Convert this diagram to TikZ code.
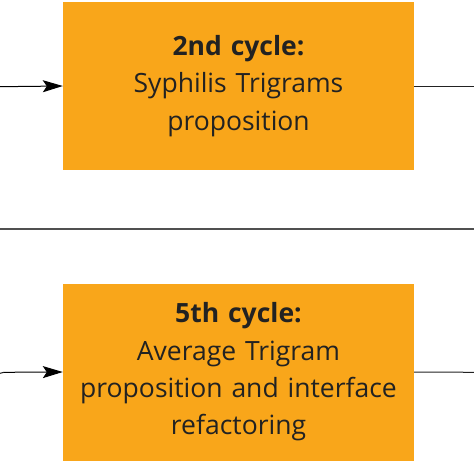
\documentclass[tikz,border=0pt]{standalone}
\usepackage{fontspec}
\setmainfont{Open Sans}
\usetikzlibrary{arrows.meta}
\definecolor{boxfill}{HTML}{F9A61A}
\definecolor{txt}{HTML}{222222}
\definecolor{linegray}{HTML}{505050}
\begin{document}
\begin{tikzpicture}[x=1pt,y=-1pt,
  cyclebox/.style={fill=boxfill, draw=none, minimum width=351pt, text width=345pt, align=center, inner sep=0pt, font=\fontsize{26.5}{37.4}\selectfont, text=txt},
  flow/.style={draw=black, line width=1pt, -{Stealth[length=20pt,width=12pt,inset=4pt]}},
  plain/.style={draw=txt, line width=1pt}]
\useasboundingbox (0,0) rectangle (474,474);
\node[cyclebox, minimum height=168pt] (b2) at (238.5,86) {\textbf{2nd cycle:}\\Syphilis Trigrams\\proposition};
\node[cyclebox, minimum height=177pt] (b5) at (238.5,372) {\textbf{5th cycle:}\\Average Trigram\\proposition and interface\\refactoring};
\coordinate (l2) at (0,86.7);
\coordinate (r2) at (474,86);
\coordinate (l5a) at (0,373.3);
\coordinate (l5) at (4,372.3);
\coordinate (r5) at (474,372.3);
\coordinate (hl) at (0,229);
\coordinate (hr) at (474,229);
\draw[flow] (l2) -- (b2.west);
\draw[plain] (b2.east) -- (r2);
\draw[plain] (l5a) -- (l5);
\draw[flow] (l5) -- (b5.west);
\draw[plain] (b5.east) -- (r5);
\draw[draw=linegray, line width=1.6pt] (hl) -- (hr);
\end{tikzpicture}
\end{document}
